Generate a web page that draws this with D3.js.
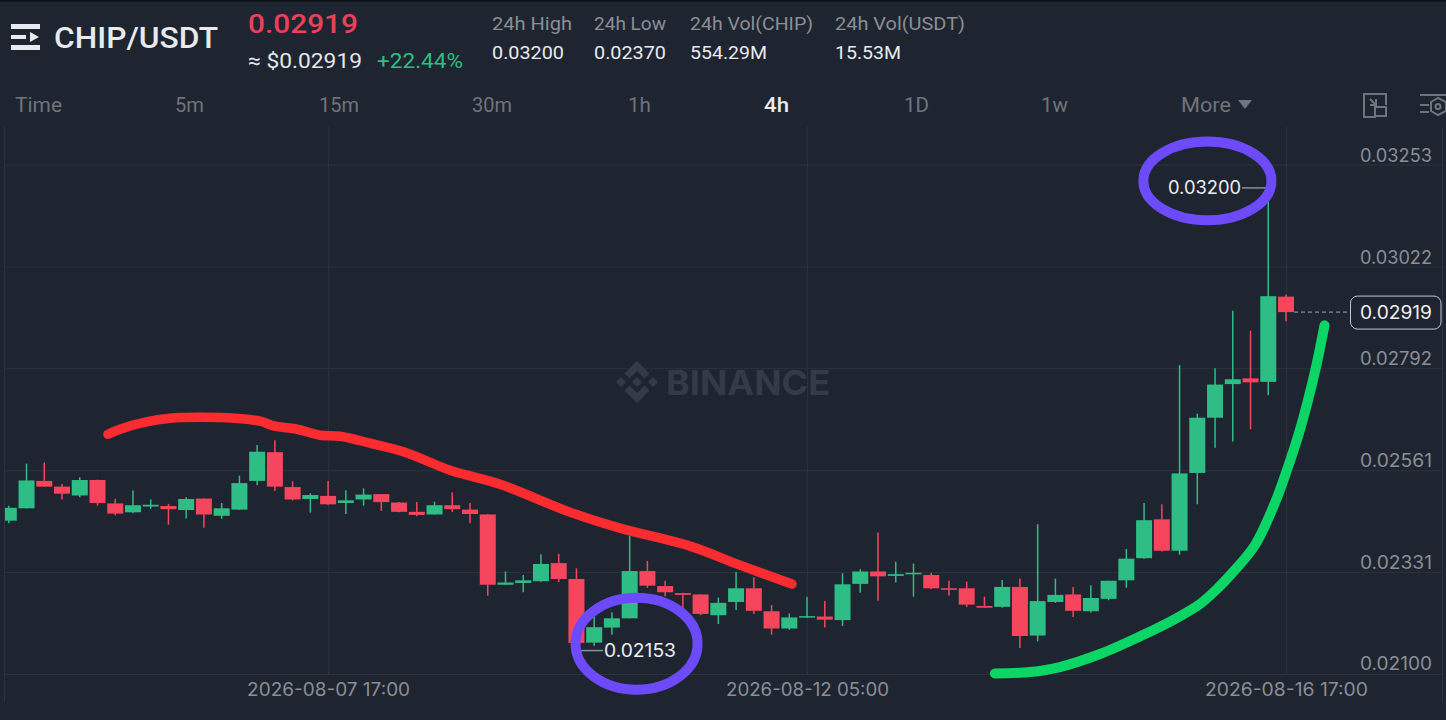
<!DOCTYPE html>
<html>
<head>
<meta charset="utf-8">
<title>CHIP/USDT</title>
<script src="https://cdn.jsdelivr.net/npm/d3@7/dist/d3.min.js"></script>
<style>
  html, body { margin: 0; padding: 0; background: #1e2530; overflow: hidden; }
  svg { display: block; font-family: Inter, "Noto Sans", sans-serif; }
</style>
</head>
<body>
<svg id="chart" width="1446" height="720"></svg>
<script>
// candles, 4h
var opens = [0.02447,0.02475,0.02537,0.02524,0.02504,0.02539,0.02486,0.02466,0.02479,0.02480,0.02471,0.02497,0.02458,0.02472,0.02537,0.02602,0.02523,0.02496,0.02503,0.02487,0.02495,0.02507,0.02488,0.02467,0.02461,0.02482,0.02472,0.02461,0.02302,0.02306,0.02310,0.02351,0.02315,0.02171,0.02205,0.02226,0.02333,0.02299,0.02283,0.02280,0.02233,0.02263,0.02294,0.02242,0.02203,0.02228,0.02230,0.02222,0.02304,0.02332,0.02322,0.02326,0.02324,0.02294,0.02294,0.02254,0.02252,0.02297,0.02187,0.02263,0.02280,0.02242,0.02270,0.02312,0.02362,0.02450,0.02379,0.02555,0.02680,0.02756,0.02769,0.02761,0.02954];
var closes = [0.02476,0.02538,0.02524,0.02508,0.02539,0.02487,0.02463,0.02482,0.02483,0.02473,0.02496,0.02461,0.02475,0.02532,0.02603,0.02524,0.02495,0.02505,0.02484,0.02493,0.02506,0.02489,0.02467,0.02460,0.02482,0.02473,0.02462,0.02302,0.02307,0.02312,0.02349,0.02315,0.02170,0.02206,0.02226,0.02333,0.02300,0.02285,0.02279,0.02236,0.02261,0.02294,0.02243,0.02203,0.02228,0.02231,0.02223,0.02303,0.02332,0.02321,0.02326,0.02329,0.02294,0.02291,0.02257,0.02250,0.02297,0.02186,0.02265,0.02279,0.02243,0.02272,0.02311,0.02361,0.02448,0.02379,0.02554,0.02680,0.02755,0.02767,0.02760,0.02955,0.02919];
var highs = [0.02481,0.02576,0.02579,0.02530,0.02545,0.02540,0.02496,0.02515,0.02495,0.02485,0.02500,0.02497,0.02487,0.02549,0.02618,0.02629,0.02536,0.02509,0.02537,0.02516,0.02520,0.02507,0.02489,0.02489,0.02490,0.02511,0.02487,0.02462,0.02332,0.02324,0.02371,0.02372,0.02339,0.02230,0.02240,0.02413,0.02356,0.02311,0.02284,0.02280,0.02273,0.02331,0.02319,0.02256,0.02237,0.02275,0.02265,0.02328,0.02337,0.02420,0.02354,0.02350,0.02329,0.02311,0.02309,0.02275,0.02313,0.02316,0.02439,0.02316,0.02297,0.02301,0.02311,0.02383,0.02487,0.02484,0.02799,0.02689,0.02792,0.02922,0.02877,0.03200,0.02959];
var lows = [0.02441,0.02475,0.02524,0.02495,0.02500,0.02481,0.02459,0.02464,0.02474,0.02438,0.02452,0.02431,0.02451,0.02472,0.02527,0.02514,0.02493,0.02465,0.02483,0.02462,0.02481,0.02469,0.02466,0.02457,0.02461,0.02467,0.02441,0.02277,0.02302,0.02285,0.02309,0.02308,0.02153,0.02164,0.02189,0.02226,0.02295,0.02276,0.02245,0.02233,0.02213,0.02245,0.02236,0.02189,0.02200,0.02227,0.02205,0.02209,0.02284,0.02266,0.02307,0.02275,0.02292,0.02277,0.02252,0.02250,0.02250,0.02159,0.02174,0.02261,0.02229,0.02239,0.02267,0.02295,0.02361,0.02377,0.02370,0.02484,0.02612,0.02626,0.02654,0.02731,0.02898];

var priceTicks = [0.03253, 0.03022, 0.02792, 0.02561, 0.02331, 0.02100];
var timeTicks = [18, 45, 72];
var timeLabels = ["2026-08-07 17:00", "2026-08-12 05:00", "2026-08-16 17:00"];
var lastPrice = 0.02919;
var maxPrice = 0.03200;
var minPrice = 0.02153;
var maxIndex = 71;
var minIndex = 32;

// hand drawn strokes on top, [candle index, price]
var redStroke = [[5.59,0.026426],[6.27,0.026539],[7.68,0.026698],[9.09,0.026788],[10.78,0.026811],[12.75,0.026788],[14.16,0.02672],[15,0.026607],[16.25,0.026539],[17.54,0.026404],[18.67,0.026381],[20.36,0.026223],[22.33,0.02602],[24.87,0.025612],[27.69,0.025296],[31.63,0.024663],[34.45,0.024301],[38.4,0.023894],[41.22,0.023464],[44.15,0.023035]];
var greenStroke = [[55.59,0.021011],[57.57,0.021045],[59.25,0.021158],[61.51,0.021452],[63.93,0.021882],[65.74,0.022244],[67.15,0.022583],[68.16,0.022944],[69.01,0.023306],[70.25,0.023917],[71.37,0.024866],[72.05,0.025612],[72.73,0.026449],[73.24,0.027195],[73.74,0.028032],[74.17,0.028891]];
// centre index, centre price, half width in candles, half height in price
var lowRing = [35.39, 0.021683, 3.44, 0.00104];
var highRing = [67.57, 0.032158, 3.61, 0.00089];

var statLabels = ["24h High", "24h Low", "24h Vol(CHIP)", "24h Vol(USDT)"];
var statValues = ["0.03200", "0.02370", "554.29M", "15.53M"];
var tabLabels = ["Time", "5m", "15m", "30m", "1h", "4h", "1D", "1w", "More"];

var svg = d3.select("#chart");
var bg = "#1e2530", gridColor = "#2c333e", greyText = "#8a8e95";
var up = "#2ebd85", down = "#f6465d";

svg.append("rect").attr("width", 1446).attr("height", 720).attr("fill", bg);
svg.append("rect").attr("width", 1446).attr("height", 1.5).attr("fill", "#0b0e12");

var x = d3.scaleLinear().domain([0, 72]).range([8.8, 1286]);
var y = d3.scaleLinear().domain([0.021, 0.03253]).range([674, 164.5]);

svg.append("defs").append("clipPath").attr("id", "plot")
  .append("rect").attr("x", 5).attr("y", 127).attr("width", 1437).attr("height", 547);

function label(px, py, str, size, fill, weight, width) {
  var t = svg.append("text")
    .attr("x", px).attr("y", py)
    .attr("font-size", size)
    .attr("fill", fill)
    .attr("font-weight", weight || 400)
    .text(str);
  if (width) t.attr("textLength", width).attr("lengthAdjust", "spacingAndGlyphs");
  return t;
}

// header
var logo = svg.append("g").attr("fill", "#e8eaed");
logo.append("rect").attr("x", 11).attr("y", 24).attr("width", 29).attr("height", 5);
logo.append("rect").attr("x", 11).attr("y", 35).attr("width", 15).attr("height", 4);
logo.append("path").attr("d", "M30 32 L39 37 L30 42 Z");
logo.append("rect").attr("x", 11).attr("y", 45).attr("width", 29).attr("height", 5);

label(54, 48, "CHIP/USDT", 30, "#e8eaed", 500, 164).style("font-family", "Roboto");
label(248, 33, "0.02919", 26, "#e6425a", 500, 110).style("font-family", "Roboto");
label(248, 68, "≈ $0.02919", 21, "#e4e6e9", 400, 114).style("font-family", "Roboto");
label(377, 68, "+22.44%", 21, "#2ebd85", 400, 86).style("font-family", "Roboto");

var statX = [492, 594, 690, 835];
var statW = [80, 72, 123, 130];
var statVW = [72, 72, 77, 66];
statLabels.forEach(function (s, i) {
  label(statX[i], 30, s, 19, greyText, 400, statW[i]).style("font-family", "Roboto");
  label(statX[i], 59, statValues[i], 19, "#e8eaed", 400, statVW[i]).style("font-family", "Roboto");
});

var tabX = [15, 175, 319, 472, 628, 764, 904, 1041, 1181];
var tabW = [47, 29, 40, 40, 23, 25, 25, 27, 50];
tabLabels.forEach(function (s, i) {
  var active = s === "4h";
  label(tabX[i], 112, s, 21, active ? "#e8eaed" : "#6f747c", active ? 500 : 400, tabW[i]).style("font-family", "Roboto");
});
svg.append("path").attr("d", "M1238 100 L1252 100 L1245 109 Z").attr("fill", "#6f747c");

// toolbar icons
var icons = svg.append("g").attr("fill", "none").attr("stroke", "#6f747c").attr("stroke-width", 2);
icons.append("path").attr("d", "M1376 117 L1364 117 L1364 94 L1386 94 L1386 105");
icons.append("rect").attr("x", 1375).attr("y", 107).attr("width", 11).attr("height", 9);
icons.append("path").attr("d", "M1370 99 L1376 105 M1376 99 L1376 105 L1370 105");
icons.append("path").attr("d", "M1420 95 L1446 95 M1420 105 L1429 105 M1420 112 L1429 112");
icons.append("path").attr("d", "M1438 98 L1446 102 L1446 111 L1438 115 L1431 111 L1431 102 Z");
icons.append("circle").attr("cx", 1438).attr("cy", 106.5).attr("r", 2.5);

// grid and axes
var yAxis = d3.axisRight(y)
  .tickValues(priceTicks)
  .tickFormat(d3.format(".5f"))
  .tickSize(-1438)
  .tickPadding(0);
var yg = svg.append("g").attr("transform", "translate(1442.5,0)").call(yAxis);
yg.select(".domain").remove();
yg.selectAll("line").attr("stroke", gridColor);
yg.selectAll("text")
  .attr("x", -10.5)
  .attr("dy", null)
  .attr("y", function (d) { return d === 0.021 ? -5 : -3.5; })
  .attr("text-anchor", "end")
  .attr("font-family", "Inter")
  .attr("font-size", 18)
  .attr("textLength", 72)
  .attr("lengthAdjust", "spacingAndGlyphs")
  .attr("fill", greyText);

var xAxis = d3.axisBottom(x)
  .tickValues(timeTicks)
  .tickFormat(function (d, i) { return timeLabels[i]; })
  .tickSize(-547)
  .tickPadding(9);
var xg = svg.append("g").attr("transform", "translate(0,674)").call(xAxis);
xg.select(".domain").remove();
xg.selectAll("line").attr("stroke", gridColor);
xg.selectAll("text")
  .attr("font-family", "Inter")
  .attr("font-size", 18)
  .attr("textLength", 163)
  .attr("lengthAdjust", "spacingAndGlyphs")
  .attr("fill", greyText);

svg.append("line").attr("x1", 1442.5).attr("x2", 1442.5).attr("y1", 127).attr("y2", 702).attr("stroke", gridColor);
svg.append("line").attr("x1", 4.5).attr("x2", 4.5).attr("y1", 127).attr("y2", 702).attr("stroke", gridColor);

// watermark
var mark = svg.append("g").attr("transform", "translate(637,382)").attr("fill", "#343b47");
mark.append("path").attr("d", "M0 -21 L12.5 -8.5 L7.5 -3.5 L0 -11 L-7.5 -3.5 L-12.5 -8.5 Z");
mark.append("path").attr("d", "M0 21 L12.5 8.5 L7.5 3.5 L0 11 L-7.5 3.5 L-12.5 8.5 Z");
mark.append("path").attr("d", "M0 -5 L5 0 L0 5 L-5 0 Z");
mark.append("path").attr("d", "M-16 -5 L-11 0 L-16 5 L-21 0 Z");
mark.append("path").attr("d", "M16 -5 L21 0 L16 5 L11 0 Z");
label(666, 395, "BINANCE", 34, "#343b47", 700, 164).style("font-family", "Inter");

// candles
var bodyWidth = 16;
var candles = svg.append("g").attr("clip-path", "url(#plot)")
  .selectAll("g")
  .data(d3.range(opens.length))
  .enter().append("g");

candles.append("line")
  .attr("x1", function (i) { return x(i); })
  .attr("x2", function (i) { return x(i); })
  .attr("y1", function (i) { return y(highs[i]); })
  .attr("y2", function (i) { return y(lows[i]); })
  .attr("stroke", function (i) { return closes[i] >= opens[i] ? up : down; })
  .attr("stroke-width", 1.5);

candles.append("rect")
  .attr("x", function (i) { return x(i) - bodyWidth / 2; })
  .attr("width", bodyWidth)
  .attr("y", function (i) { return y(Math.max(opens[i], closes[i])); })
  .attr("height", function (i) { return Math.max(1.5, Math.abs(y(opens[i]) - y(closes[i]))); })
  .attr("fill", function (i) { return closes[i] >= opens[i] ? up : down; });

// last price
svg.append("line")
  .attr("x1", x(72) + bodyWidth / 2).attr("x2", 1350)
  .attr("y1", y(lastPrice)).attr("y2", y(lastPrice))
  .attr("stroke", "#a4a8ad").attr("stroke-dasharray", "4,3");
svg.append("rect")
  .attr("x", 1350.5).attr("y", y(lastPrice) - 16)
  .attr("width", 90.5).attr("height", 33).attr("rx", 7)
  .attr("fill", bg).attr("stroke", "#c4c7cb");
label(1360, y(lastPrice) + 6.5, d3.format(".5f")(lastPrice), 18, "#f0f1f3", 400, 72);

// max and min markers
svg.append("line").attr("x1", 1242).attr("x2", x(maxIndex)).attr("y1", y(maxPrice)).attr("y2", y(maxPrice)).attr("stroke", "#8a8e95").attr("stroke-width", 1.5);
label(1168, y(maxPrice) + 6.5, d3.format(".5f")(maxPrice), 18, "#eceef0", 400, 73);
svg.append("line").attr("x1", x(minIndex)).attr("x2", 603).attr("y1", y(minPrice)).attr("y2", y(minPrice)).attr("stroke", "#8a8e95").attr("stroke-width", 1.5);
label(604, y(minPrice) + 6.5, d3.format(".5f")(minPrice), 18, "#eceef0", 400, 72);

// strokes
var strokeLine = d3.line()
  .x(function (d) { return x(d[0]); })
  .y(function (d) { return y(d[1]); })
  .curve(d3.curveCatmullRom);

svg.append("path").datum(redStroke)
  .attr("d", strokeLine).attr("fill", "none")
  .attr("stroke", "#fb2c30").attr("stroke-width", 9.5).attr("stroke-linecap", "round");
svg.append("path").datum(greenStroke)
  .attr("d", strokeLine).attr("fill", "none")
  .attr("stroke", "#0bd565").attr("stroke-width", 10).attr("stroke-linecap", "round");

[lowRing, highRing].forEach(function (r) {
  svg.append("ellipse")
    .attr("cx", x(r[0])).attr("cy", y(r[1]))
    .attr("rx", x(r[2]) - x(0))
    .attr("ry", y(0.021) - y(0.021 + r[3]))
    .attr("fill", "none")
    .attr("stroke", "#6e4bfa").attr("stroke-width", 10);
});
</script>
</body>
</html>
